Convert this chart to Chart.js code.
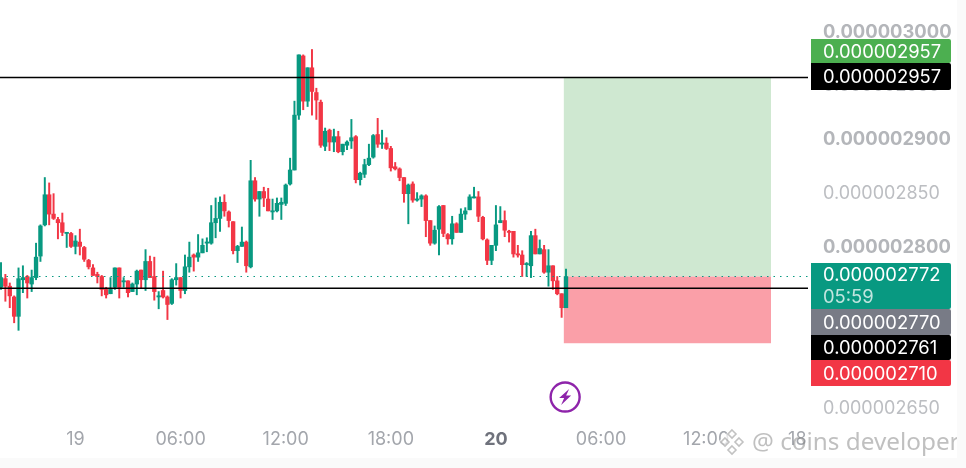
<!DOCTYPE html>
<html>
<head>
<meta charset="utf-8">
<script src="https://cdn.jsdelivr.net/npm/chart.js@4/dist/chart.umd.min.js"></script>
<style>
  html, body { margin: 0; padding: 0; background: #fafafa; overflow: hidden; }
  canvas { display: block; }
</style>
</head>
<body>
<canvas id="chart" width="966" height="468"></canvas>
<script>
// prices are in units of 1e-9, 15 minute candles
const opens = [
  2762,2770,2763,2753,2735,2769,2772,2765,2771,2791,
  2820,2848,2830,2825,2822,2812,2812,2800,2804,2799,
  2787,2780,2774,2772,2760,2756,2762,2780,2767,2768,
  2758,2765,2778,2769,2786,2772,2753,2759,2753,2747,
  2769,2771,2759,2781,2792,2790,2794,2803,2803,2822,
  2826,2841,2832,2823,2796,2800,2804,2781,2861,2844,
  2851,2844,2832,2833,2839,2840,2858,2871,2922,2977,
  2935,2966,2943,2934,2893,2908,2897,2902,2888,2894,
  2898,2902,2862,2867,2876,2883,2904,2895,2896,2891,
  2874,2872,2864,2849,2858,2843,2844,2847,2824,2803,
  2816,2838,2811,2807,2821,2813,2830,2834,2845,2846,
  2827,2806,2787,2801,2822,2824,2814,2814,2793,2792,
  2783,2782,2810,2793,2797,2776,2782,2768,2756,2743
];
const closes = [
  2771,2763,2754,2735,2770,2771,2766,2771,2790,2819,
  2848,2830,2826,2822,2813,2813,2800,2805,2800,2788,
  2781,2773,2772,2760,2755,2760,2780,2762,2768,2757,
  2765,2777,2769,2786,2771,2758,2754,2753,2746,2769,
  2771,2759,2781,2790,2790,2794,2801,2804,2822,2826,
  2841,2833,2824,2796,2800,2804,2782,2861,2844,2851,
  2845,2833,2833,2840,2841,2857,2871,2922,2978,2935,
  2966,2944,2936,2894,2907,2897,2902,2888,2895,2897,
  2901,2862,2868,2876,2882,2903,2895,2896,2891,2873,
  2872,2864,2849,2857,2843,2844,2847,2824,2803,2815,
  2837,2812,2807,2821,2813,2830,2833,2846,2846,2828,
  2807,2787,2801,2820,2824,2815,2813,2793,2792,2783,
  2784,2810,2793,2798,2776,2782,2768,2756,2743,2772
];
const highs = [
  2785,2774,2766,2754,2780,2782,2773,2778,2803,2820,
  2864,2859,2849,2827,2831,2813,2813,2810,2816,2800,
  2788,2783,2776,2773,2762,2771,2780,2780,2771,2768,
  2766,2778,2778,2797,2791,2790,2758,2777,2754,2770,
  2784,2771,2792,2804,2793,2811,2807,2808,2838,2845,
  2846,2848,2833,2823,2801,2818,2805,2880,2864,2851,
  2855,2854,2844,2845,2845,2858,2882,2935,2978,2978,
  2966,2983,2947,2936,2910,2909,2909,2907,2895,2898,
  2918,2903,2869,2881,2895,2904,2919,2908,2901,2893,
  2878,2873,2864,2858,2860,2850,2848,2848,2824,2819,
  2838,2838,2812,2828,2822,2835,2836,2848,2855,2851,
  2828,2807,2801,2838,2837,2833,2815,2814,2801,2796,
  2785,2814,2816,2806,2801,2797,2782,2772,2756,2779
];
const lows = [
  2760,2749,2743,2729,2722,2757,2752,2758,2769,2786,
  2819,2820,2825,2807,2810,2799,2799,2793,2792,2786,
  2779,2773,2766,2754,2752,2756,2760,2752,2762,2753,
  2758,2755,2761,2759,2771,2750,2742,2752,2732,2746,
  2764,2752,2756,2776,2777,2786,2794,2795,2802,2808,
  2814,2828,2818,2793,2785,2800,2776,2780,2842,2828,
  2837,2833,2825,2832,2825,2838,2857,2871,2918,2927,
  2930,2922,2918,2892,2889,2889,2888,2887,2885,2890,
  2891,2859,2857,2864,2875,2882,2892,2891,2890,2870,
  2871,2861,2841,2821,2841,2842,2837,2809,2801,2802,
  2792,2809,2802,2802,2813,2813,2825,2834,2845,2823,
  2806,2783,2783,2796,2822,2809,2804,2790,2790,2772,
  2772,2771,2793,2793,2775,2763,2760,2755,2734,2743
];
const xTickIndex = [17, 41, 65, 89, 113, 137, 161, 185];
const xTickLabels = ['19', '06:00', '12:00', '18:00', '20', '06:00', '12:00', '18:00'];
const boldDayTick = 113;
const yTickValues = [3000, 2950, 2900, 2850, 2800, 2750, 2700, 2650];

const targetPrice = 2957;
const lastPrice = 2772;
const entryPrice = 2772;
const entryLine = 2761;
const stopPrice = 2710;
const boxFromIndex = 128.5;
const boxToIndex = 175.8;
const boltIndex = 128.8;
const boltPrice = 2660;

const tagLabels = [targetPrice, targetPrice, lastPrice, 2770, entryLine, stopPrice];
const countdown = '05:59';

const GREEN = '#089981';
const RED = '#f23645';
const PLOT_RIGHT = 808;
const PLOT_BOTTOM = 425;
const PAPER_W = 957;
const PAPER_H = 458;
const tagBoxes = [
  { top: 39, bottom: 63, fill: '#4caf50' },
  { top: 63, bottom: 90, fill: '#000000' },
  { top: 263, bottom: 309, fill: '#089981' },
  { top: 309, bottom: 335, fill: '#787b86' },
  { top: 335, bottom: 360, fill: '#000000' },
  { top: 360, bottom: 386, fill: '#f23645' }
];

const fmt = v => (v / 1e9).toFixed(9);
const isUp = i => closes[i] >= opens[i];
const candleColor = ctx => (isUp(ctx.dataIndex) ? GREEN : RED);
const tickVal = ctx => (ctx.tick ? ctx.tick.value : 0);

const overlayPlugin = {
  id: 'overlay',
  beforeDraw(chart) {
    const c = chart.ctx;
    c.save();
    c.fillStyle = '#ffffff';
    c.fillRect(0, 0, PAPER_W, PAPER_H);
    c.restore();
  },
  beforeDatasetsDraw(chart) {
    const c = chart.ctx, x = chart.scales.x, y = chart.scales.y;
    c.save();
    // price panel covers the clipped end of the time axis
    c.fillStyle = '#ffffff';
    c.fillRect(PLOT_RIGHT, PLOT_BOTTOM, PAPER_W - PLOT_RIGHT, 25);
    const left = x.getPixelForValue(boxFromIndex), right = x.getPixelForValue(boxToIndex);
    c.fillStyle = '#cfe8d1';
    c.fillRect(left, y.getPixelForValue(targetPrice), right - left, y.getPixelForValue(entryPrice) - y.getPixelForValue(targetPrice));
    c.fillStyle = '#fa9fa8';
    c.fillRect(left, y.getPixelForValue(entryPrice), right - left, y.getPixelForValue(stopPrice) - y.getPixelForValue(entryPrice));
    c.restore();
  },
  afterDatasetsDraw(chart) {
    const c = chart.ctx, y = chart.scales.y, x = chart.scales.x;
    c.save();
    c.strokeStyle = '#000000';
    c.lineWidth = 1.5;
    [targetPrice, entryLine].forEach(p => {
      c.beginPath();
      c.moveTo(0, y.getPixelForValue(p));
      c.lineTo(PLOT_RIGHT, y.getPixelForValue(p));
      c.stroke();
    });
    c.strokeStyle = GREEN;
    c.lineWidth = 1.2;
    c.setLineDash([1.5, 5]);
    c.beginPath();
    c.moveTo(0, y.getPixelForValue(lastPrice));
    c.lineTo(PLOT_RIGHT, y.getPixelForValue(lastPrice));
    c.stroke();
    c.setLineDash([]);

    // lightning marker
    const bx = x.getPixelForValue(boltIndex), by = y.getPixelForValue(boltPrice);
    c.strokeStyle = '#8e24aa';
    c.lineWidth = 2.4;
    c.beginPath();
    c.arc(bx, by, 14.5, 0, Math.PI * 2);
    c.stroke();
    c.fillStyle = '#8e24aa';
    c.beginPath();
    c.moveTo(bx + 4, by - 8);
    c.lineTo(bx - 6, by + 1);
    c.lineTo(bx - 1, by + 1);
    c.lineTo(bx - 4, by + 8);
    c.lineTo(bx + 6, by - 1.5);
    c.lineTo(bx + 1, by - 1.5);
    c.closePath();
    c.fill();
    c.restore();
  },
  afterDraw(chart) {
    const c = chart.ctx;
    c.save();
    tagBoxes.forEach((t, i) => {
      c.fillStyle = t.fill;
      c.beginPath();
      c.roundRect(811, t.top, 140, t.bottom - t.top, [0, 2, 2, 0]);
      c.fill();
      c.fillStyle = '#ffffff';
      c.font = '18.4px Inter';
      c.textBaseline = 'middle';
      c.textAlign = 'left';
      const ty = i === 2 ? t.top + 12 : (t.top + t.bottom) / 2 + 1;
      c.fillText(fmt(tagLabels[i]), 823, ty);
      if (i === 2) {
        c.fillStyle = 'rgba(255,255,255,0.75)';
        c.fillText(countdown, 823, t.top + 34);
      }
    });

    // watermark
    c.beginPath();
    c.rect(0, 0, PAPER_W, PAPER_H);
    c.clip();
    c.fillStyle = 'rgba(255,255,255,0.7)';
    c.beginPath();
    c.moveTo(732, 428);
    c.lineTo(746, 442);
    c.lineTo(732, 456);
    c.lineTo(718, 442);
    c.closePath();
    c.fill();
    c.strokeStyle = 'rgba(120,120,120,0.45)';
    c.lineWidth = 1.6;
    [[732, 434], [725, 442], [739, 442], [732, 450]].forEach(d => {
      c.beginPath();
      c.moveTo(d[0], d[1] - 4);
      c.lineTo(d[0] + 4, d[1]);
      c.lineTo(d[0], d[1] + 4);
      c.lineTo(d[0] - 4, d[1]);
      c.closePath();
      c.stroke();
    });
    c.fillStyle = 'rgba(130,130,130,0.5)';
    c.font = '24.3px "Noto Sans"';
    c.textBaseline = 'middle';
    c.fillText('@ coins developer', 752, 443);
    c.restore();
  }
};

new Chart(document.getElementById('chart'), {
  type: 'bar',
  data: {
    datasets: [
      {
        label: 'body',
        data: opens.map((o, i) => ({ x: i, y: [o, closes[i]] })),
        backgroundColor: candleColor,
        barThickness: 3.7,
        minBarLength: 1.2,
        grouped: false,
        order: 1
      },
      {
        label: 'wick',
        data: highs.map((h, i) => ({ x: i, y: [lows[i], h] })),
        backgroundColor: candleColor,
        barThickness: 1.3,
        grouped: false,
        order: 2
      }
    ]
  },
  options: {
    responsive: false,
    animation: false,
    events: [],
    layout: { padding: 0 },
    plugins: { legend: { display: false }, tooltip: { enabled: false } },
    scales: {
      x: {
        type: 'linear',
        offset: false,
        bounds: 'data',
        min: -0.23,
        max: 184.25,
        grid: { display: false, drawTicks: false },
        border: { display: false },
        afterBuildTicks(scale) { scale.ticks = xTickIndex.map(v => ({ value: v })); },
        afterFit(scale) { scale.height = 468 - PLOT_BOTTOM; scale.paddingLeft = 0; scale.paddingRight = 0; },
        ticks: {
          autoSkip: false,
          maxRotation: 0,
          padding: 4,
          callback: v => xTickLabels[xTickIndex.indexOf(v)],
          color: ctx => (tickVal(ctx) === boldDayTick ? '#6f727c' : '#a3a6ac'),
          font: ctx => ({ family: 'Inter', size: 18, weight: tickVal(ctx) === boldDayTick ? 'bold' : 'normal' })
        }
      },
      y: {
        position: 'right',
        bounds: 'data',
        min: 2634,
        max: 3029,
        grid: { display: false, drawTicks: false },
        border: { display: false },
        afterBuildTicks(scale) { scale.ticks = yTickValues.map(v => ({ value: v })); },
        afterFit(scale) { scale.width = 966 - PLOT_RIGHT; scale.paddingTop = 0; scale.paddingBottom = 0; },
        ticks: {
          z: 1,
          padding: 15,
          labelOffset: 1,
          callback: v => fmt(v),
          color: ctx => (tickVal(ctx) % 100 === 0 ? '#b4b6ba' : '#bcbec2'),
          font: ctx => ({ family: 'Inter', size: tickVal(ctx) % 100 === 0 ? 18.4 : 18, weight: tickVal(ctx) % 100 === 0 ? 'bold' : 'normal' })
        }
      }
    }
  },
  plugins: [overlayPlugin]
});
</script>
</body>
</html>
